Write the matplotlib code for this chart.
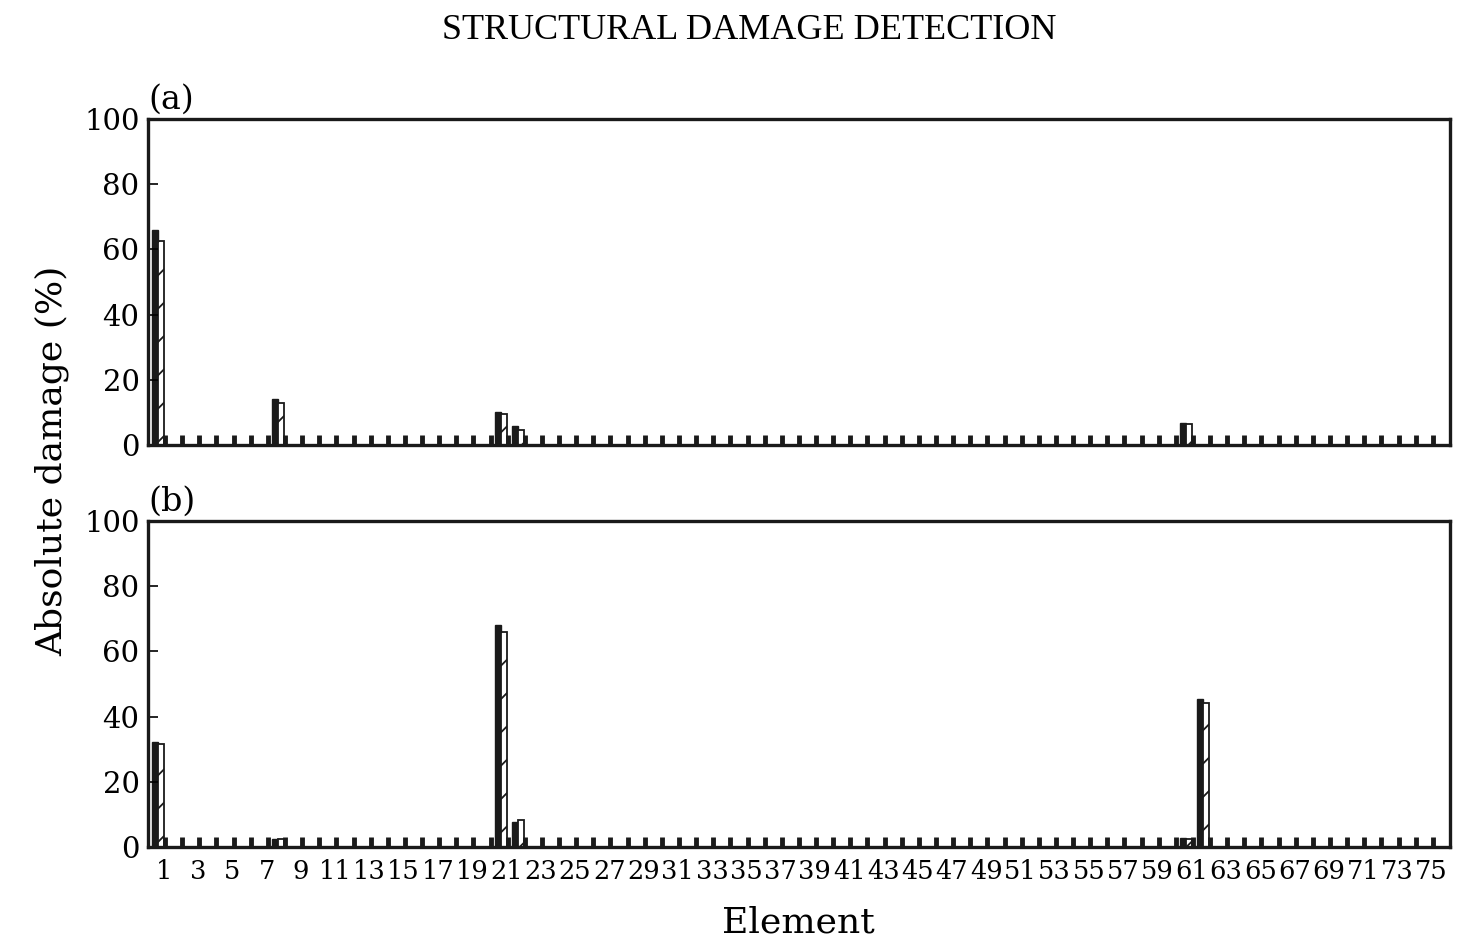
import numpy as np
import matplotlib
matplotlib.use('Agg')
import matplotlib.pyplot as plt

# values (absolute damage in %)
elements = list(range(1, 76))
a_elements = [1, 8, 21, 22, 61]
a_black = [66.0, 14.1, 10.1, 5.8, 6.7]
a_hatch = [62.5, 12.9, 9.5, 4.6, 6.4]
b_elements = [1, 8, 21, 22, 61, 62]
b_black = [32.2, 2.5, 68.1, 7.8, 2.8, 45.3]
b_hatch = [31.6, 2.5, 66.0, 8.3, 2.5, 44.3]
yticks = [0, 20, 40, 60, 80, 100]
xtick_labels = [str(e) for e in elements if e % 2 == 1]

plt.rcParams['hatch.linewidth'] = 1.3
serif = 'DejaVu Serif'

fig = plt.figure(figsize=(14.78, 9.46), dpi=100)
ax_a = fig.add_axes([0.1001, 0.5296, 0.8809, 0.3446])
ax_b = fig.add_axes([0.1001, 0.1047, 0.8809, 0.3446])

bw = 0.36


def draw_panel(ax, els, black, hatch, tag, show_labels):
    x = np.array(els)
    ax.bar(x - bw / 2, black, width=bw, color='#1a1a1a', edgecolor='#1a1a1a', linewidth=1.0)
    ax.bar(x + bw / 2, hatch, width=bw, color='white', edgecolor='#1a1a1a',
           linewidth=1.3, hatch='/')
    ax.set_xlim(0.4, 76.4)
    ax.set_ylim(0, 100)
    ax.set_yticks(yticks)
    ax.set_yticklabels([str(v) for v in yticks], fontsize=21, family=serif)
    ax.tick_params(axis='y', direction='in', length=7, width=1.2, pad=6)
    # short thick marks along the base, one per element
    ax.set_xticks([e + 0.4 for e in elements], minor=True)
    ax.tick_params(axis='x', which='minor', direction='in', length=7.5, width=3.5,
                   color='#1a1a1a')
    ax.set_xticks([e + 0.33 for e in elements if e % 2 == 1])
    if show_labels:
        ax.set_xticklabels(xtick_labels, fontsize=18.5, family=serif)
    else:
        ax.set_xticklabels([])
    ax.tick_params(axis='x', which='major', length=0, pad=9)
    for s in ax.spines.values():
        s.set_linewidth(2.4)
        s.set_color('#1a1a1a')
    ax.text(0.0, 1.01, tag, transform=ax.transAxes, fontsize=24, family=serif,
            ha='left', va='bottom')


draw_panel(ax_a, a_elements, a_black, a_hatch, '(a)', False)
draw_panel(ax_b, b_elements, b_black, b_hatch, '(b)', True)

fig.text(0.507, 0.968, 'STRUCTURAL DAMAGE DETECTION', fontsize=26,
         family='Liberation Serif', ha='center', va='center')
fig.text(0.035, 0.513, 'Absolute damage (%)', fontsize=26, family=serif,
         rotation=90, ha='center', va='center')
fig.text(0.54, 0.025, 'Element', fontsize=26, family=serif,
         ha='center', va='center')

fig.savefig('out.png', dpi=100)
